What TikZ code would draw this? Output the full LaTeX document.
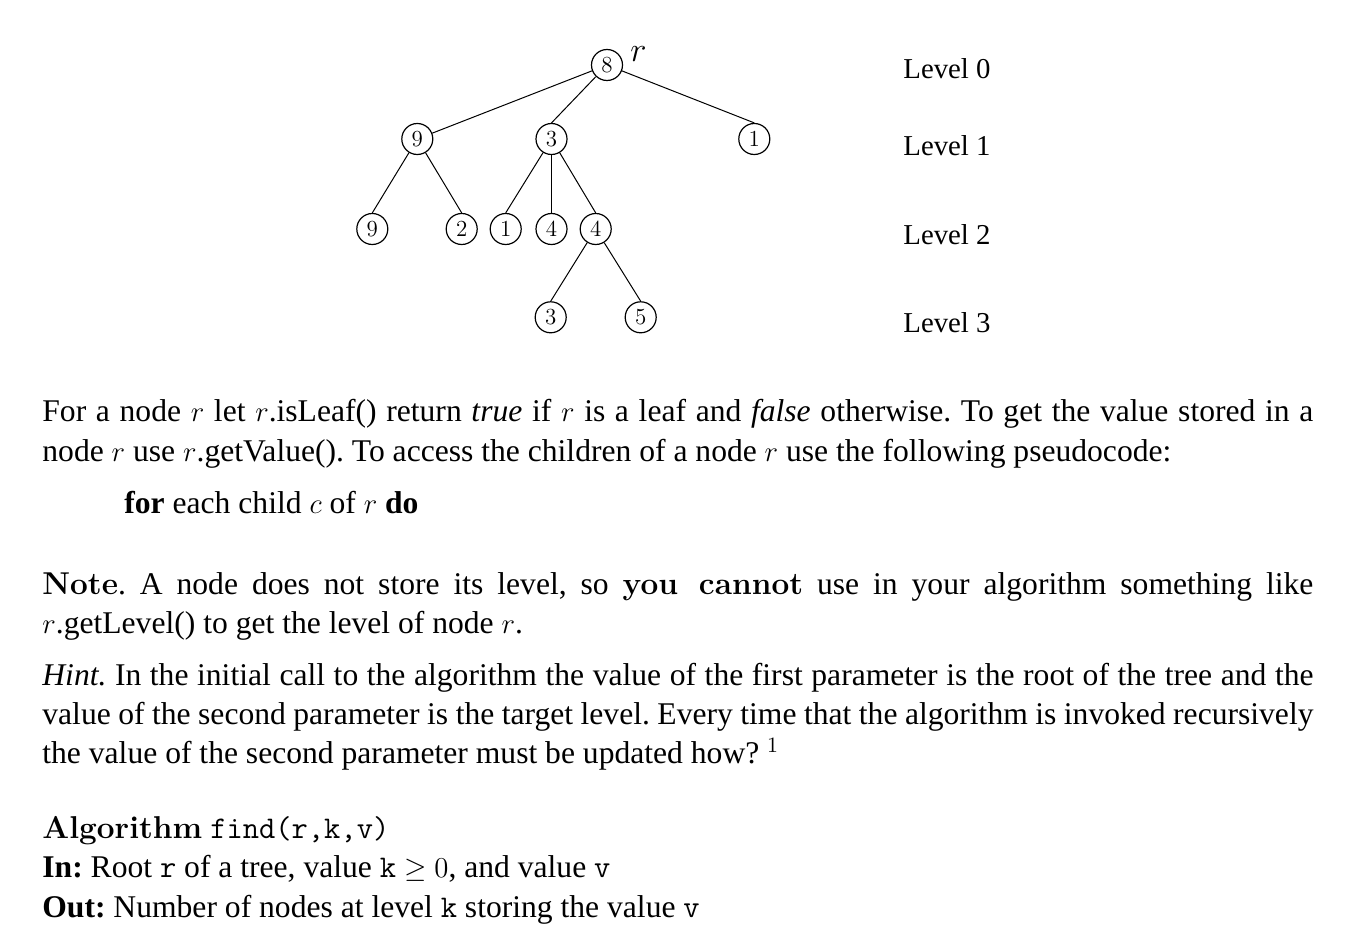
\documentclass[tikz,border=0pt]{standalone}
\usepackage[no-math]{fontspec}
\setmainfont{Liberation Serif}
\newfontfamily\lmr{Latin Modern Roman}
\newcommand\cmbold[1]{{\lmr\bfseries #1}}
\newcommand\jline[1]{\makebox[635.5pt][s]{#1}}
\tikzset{
  tnode/.style={circle, draw, line width=0.6pt, minimum size=15.5pt, inner sep=0pt, font=\lmr\fontsize{11.5}{13}\selectfont},
  edge/.style={line width=0.5pt},
  lvl/.style={anchor=base west, inner sep=0pt, font=\fontsize{14.4}{19.75}\selectfont},
  txt/.style={anchor=base west, inner sep=0pt, font=\fontsize{15.8}{19.75}\selectfont\frenchspacing},
}
\begin{document}
\begin{tikzpicture}[x=0.5pt,y=-0.5pt]
\useasboundingbox (0,0) rectangle (1356,952);
% tree
\node[tnode] (n8) at (607,65) {8};
\node[anchor=base west, inner sep=0pt, font=\fontsize{17}{19}\selectfont] (rlab) at (630,62) {$r$};
\node[tnode] (n9a) at (417.3,139) {9};
\node[tnode] (n3a) at (551.5,139) {3};
\node[tnode] (n1a) at (754.3,139) {1};
\node[tnode] (n9b) at (372.3,229) {9};
\node[tnode] (n2b) at (461.7,229) {2};
\node[tnode] (n1b) at (505.7,229) {1};
\node[tnode] (n4b) at (551.5,229) {4};
\node[tnode] (n4c) at (595.7,229) {4};
\node[tnode] (n3c) at (550.7,317.3) {3};
\node[tnode] (n5c) at (640.7,317.3) {5};
\draw[edge] (n8) -- (n9a);
\draw[edge] (n8) -- (n3a.north);
\draw[edge] (n8) -- (n1a.north);
\draw[edge] (n9a) -- (n9b.north);
\draw[edge] (n9a) -- (n2b.north);
\draw[edge] (n3a) -- (n1b.north);
\draw[edge] (n3a) -- (n4b);
\draw[edge] (n3a) -- (n4c.north);
\draw[edge] (n4c) -- (n3c.north);
\draw[edge] (n4c) -- (n5c.north);
% level labels
\node[lvl] (l0) at (903,79) {Level 0};
\node[lvl] (l1) at (903,156) {Level 1};
\node[lvl] (l2) at (903,245) {Level 2};
\node[lvl] (l3) at (903,333) {Level 3};
% paragraph 1
\node[txt] (p1a) at (42,422) {\jline{For a node $r$ let $r$.isLeaf() return \textit{true} if $r$ is a leaf and \textit{false} otherwise. To get the value stored in a}};
\node[txt] (p1b) at (42,461) {node $r$ use $r$.getValue(). To access the children of a node $r$ use the following pseudocode:};
\node[txt] (p1c) at (124,513) {\textbf{for} each child $c$ of $r$ \textbf{do}};
% note
\node[txt] (n1) at (42,594) {\jline{\cmbold{Note}. A node does not store its level, so \cmbold{you cannot} use in your algorithm something like}};
\node[txt] (n2) at (42,633) {$r$.getLevel() to get the level of node $r$.};
% hint
\node[txt] (h1) at (42,685) {\jline{\textit{Hint.} In the initial call to the algorithm the value of the first parameter is the root of the tree and the}};
\node[txt] (h2) at (42,724) {\jline{value of the second parameter is the target level. Every time that the algorithm is invoked recursively}};
\node[txt] (h3) at (42,763) {the value of the second parameter must be updated how? $^1$};
% algorithm
\node[txt] (a1) at (42,838) {\cmbold{Algorithm} \texttt{find(r,k,v)}};
\node[txt] (a2) at (42,877) {\textbf{In:} Root \texttt{r} of a tree, value \texttt{k} $\geq 0$, and value \texttt{v}};
\node[txt] (a3) at (42,917) {\textbf{Out:} Number of nodes at level \texttt{k} storing the value \texttt{v}};
\end{tikzpicture}
\end{document}
